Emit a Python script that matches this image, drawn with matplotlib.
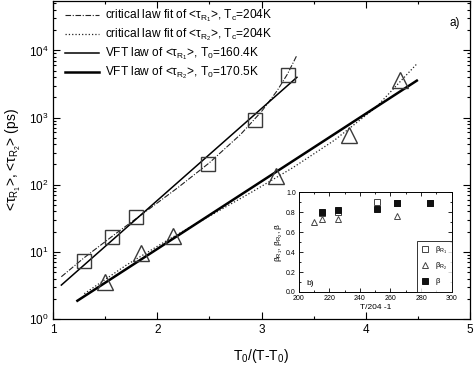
import numpy as np
import matplotlib
matplotlib.use("Agg")
import matplotlib.pyplot as plt
from matplotlib.ticker import LogLocator, MultipleLocator, NullFormatter

plt.rcParams['font.family'] = ['Liberation Sans', 'DejaVu Sans']
plt.rcParams['mathtext.fontset'] = 'custom'
plt.rcParams['mathtext.rm'] = 'Liberation Sans'
plt.rcParams['mathtext.it'] = 'Liberation Sans'

# ---- main data ----
x_R1 = [1.30, 1.57, 1.80, 2.49, 2.94, 3.25]
tau_R1 = [7.3, 16.4, 33, 205, 905, 4300]
x_R2 = [1.50, 1.84, 2.15, 3.14, 3.84, 4.33]
tau_R2 = [3.6, 9.5, 17, 133, 555, 3650]

# critical-law fit curves
crit1_x = [1.08, 1.30, 1.60, 1.90, 2.20, 2.50, 2.80, 3.00, 3.15, 3.25, 3.34]
crit1_y = [4.26, 8.2, 18.6, 41, 91, 212, 562, 1230, 2510, 4470, 8500]
crit2_x = [1.30, 1.70, 2.10, 2.50, 2.90, 3.30, 3.70, 4.10, 4.49]
crit2_y = [2.38, 6.3, 15.0, 34, 76.6, 179, 460, 1430, 6300]
# VFT fit lines (straight in log scale: end points)
vft1_x = [1.08, 3.34]
vft1_y = [3.2, 3980]
vft2_x = [1.234, 4.49]
vft2_y = [1.87, 3550]

# ---- inset data ----
T_bR1 = [215, 225.5, 251, 264, 286]
b_R1 = [0.79, 0.80, 0.90, 0.89, 0.89]
T_bR2 = [210, 215, 225.5, 264]
b_R2 = [0.70, 0.73, 0.73, 0.76]
T_b = [215, 225.5, 251, 264, 286]
b_all = [0.80, 0.82, 0.83, 0.89, 0.89]

fig = plt.figure(figsize=(4.74, 3.65), dpi=100)
ax = fig.add_axes([53/474, 1-319/365, (470-53)/474, 319/365 - 0.002])

mc = '#3a3a3a'
ax.plot(crit1_x, crit1_y, color='#222222', lw=0.8, ls='-.', dashes=(5, 1.5, 1, 1.5),
        label=r'critical law fit of <$\tau_{R_1}$>, T$_c$=204K')
ax.plot(crit2_x, crit2_y, color='#222222', lw=0.9, ls=':',
        label=r'critical law fit of <$\tau_{R_2}$>, T$_c$=204K')
ax.plot(vft1_x, vft1_y, color='black', lw=1.1, ls='-',
        label=r'VFT law of <$\tau_{R_1}$>, T$_0$=160.4K')
ax.plot(vft2_x, vft2_y, color='black', lw=1.8, ls='-',
        label=r'VFT law of <$\tau_{R_2}$>, T$_0$=170.5K')
ax.plot(x_R1, tau_R1, ls='none', marker='s', ms=9.5, mfc='none', mec=mc, mew=1.0)
ax.plot(x_R2, tau_R2, ls='none', marker='^', ms=11.5, mfc='none', mec=mc, mew=1.0)

ax.set_yscale('log')
ax.set_xlim(1, 5)
ax.set_ylim(1, 10**4.74)
ax.xaxis.set_major_locator(MultipleLocator(1))
ax.xaxis.set_minor_locator(MultipleLocator(0.5))
ax.yaxis.set_major_locator(LogLocator(base=10, numticks=10))
ax.yaxis.set_minor_locator(LogLocator(base=10, subs=np.arange(2, 10), numticks=20))
ax.yaxis.set_minor_formatter(NullFormatter())
ax.tick_params(which='both', direction='in', top=True, right=True, labelsize=8.5, width=0.8)
ax.tick_params(which='major', length=5)
ax.tick_params(which='minor', length=2.5)
for s in ax.spines.values():
    s.set_linewidth(0.9)
ax.set_xlabel(r'T$_0$/(T-T$_0$)', fontsize=10, labelpad=8)
ax.set_ylabel(r'<$\tau_{R_1}$>, <$\tau_{R_2}$> (ps)', fontsize=10, labelpad=4)

leg = ax.legend(loc='upper left', frameon=False, fontsize=8.6, handlelength=2.8,
                handletextpad=0.5, labelspacing=0.2, borderaxespad=0.2,
                bbox_to_anchor=(0.012, 1.0))
ax.text(0.975, 0.93, 'a)', transform=ax.transAxes, ha='right', va='center', fontsize=8.5)

# ---- inset ----
ins = fig.add_axes([298.7/474, 1-292/365, (451.7-298.7)/474, (292-192.3)/365])
ins.plot(T_bR1, b_R1, ls='none', marker='s', ms=4.3, mfc='white', mec='#444444', mew=0.7,
         label=r'$\beta_{R_1}$')
ins.plot(T_bR2, b_R2, ls='none', marker='^', ms=5, mfc='white', mec='#444444', mew=0.7,
         label=r'$\beta_{R_2}$')
ins.plot(T_b, b_all, ls='none', marker='s', ms=4.3, mfc='#111111', mec='#111111', mew=0.7,
         label=r'$\beta$')
ins.set_xlim(200, 300)
ins.set_ylim(0, 1.0)
ins.xaxis.set_major_locator(MultipleLocator(20))
ins.xaxis.set_minor_locator(MultipleLocator(10))
ins.yaxis.set_major_locator(MultipleLocator(0.2))
ins.yaxis.set_minor_locator(MultipleLocator(0.1))
ins.yaxis.set_major_formatter(matplotlib.ticker.FormatStrFormatter('%.1f'))
ins.tick_params(which='both', direction='in', top=True, right=True, labelsize=5, width=0.6)
ins.tick_params(axis='x', pad=2.5)
ins.tick_params(axis='y', pad=2.0)
ins.tick_params(which='major', length=3)
ins.tick_params(which='minor', length=1.5)
for s in ins.spines.values():
    s.set_linewidth(0.7)
ins.set_xlabel('T/204 -1', fontsize=6, labelpad=1)
ins.set_ylabel(r'$\beta_{R_1}$, $\beta_{R_2}$, $\beta$', fontsize=6, labelpad=1)
ins.text(0.05, 0.09, 'b)', transform=ins.transAxes, fontsize=6, ha='left', va='center')
ileg = ins.legend(loc='lower right', fontsize=5.5, frameon=True, fancybox=False,
                  borderaxespad=0.0, handlelength=1.0, handletextpad=0.8,
                  labelspacing=0.6, borderpad=0.6)
ileg.get_frame().set_edgecolor('black')
ileg.get_frame().set_linewidth(0.7)

fig.savefig('out.png', dpi=100)
